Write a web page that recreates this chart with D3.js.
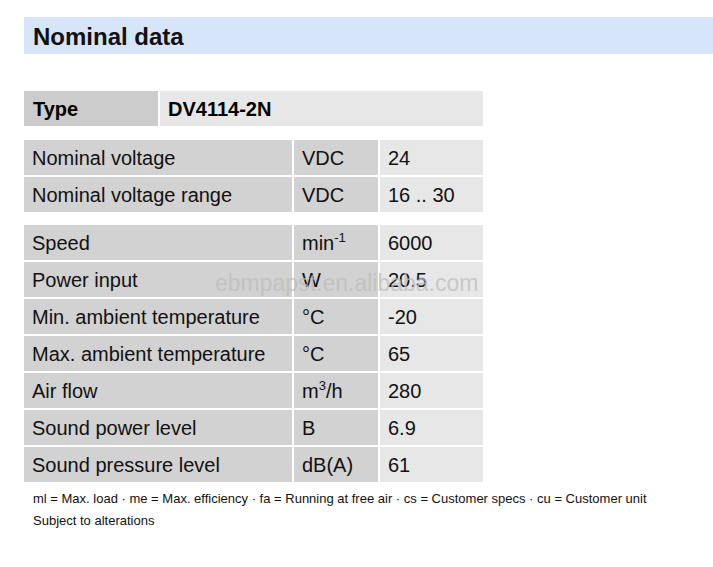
<!DOCTYPE html>
<html><head><meta charset="utf-8">
<script src="https://cdn.jsdelivr.net/npm/d3@7"></script>
<style>body{margin:0;background:#fff;font-family:"Liberation Sans",Arial,sans-serif}</style>
</head><body><div id="chart"></div>
<script>
// Nominal data table
const typeLabel = "Type", typeValue = "DV4114-2N";
const group1 = [
  {name:"Nominal voltage", unit:"VDC", value:"24"},
  {name:"Nominal voltage range", unit:"VDC", value:"16 .. 30"}
];
const group2 = [
  {name:"Speed", unit:"min", sup:"-1", value:"6000"},
  {name:"Power input", unit:"W", value:"20.5"},
  {name:"Min. ambient temperature", unit:"°C", value:"-20"},
  {name:"Max. ambient temperature", unit:"°C", value:"65"},
  {name:"Air flow", unit:"m", sup:"3", unit2:"/h", value:"280"},
  {name:"Sound power level", unit:"B", value:"6.9"},
  {name:"Sound pressure level", unit:"dB(A)", value:"61"}
];
const footnotes = [
  "ml = Max. load  · me = Max. efficiency  · fa = Running at free air  · cs = Customer specs  · cu = Customer unit",
  "Subject to alterations"
];

const width = 713, height = 567;
const svg = d3.select("#chart").append("svg").attr("width", width).attr("height", height);

const darkCell = "#d2d2d2", lightCell = "#e7e7e7";
const rowH = 35, rowStep = 37;

// header band
svg.append("rect").attr("x",24).attr("y",17).attr("width",689).attr("height",37).attr("fill","#d7e5fb");
svg.append("text").attr("x",33).attr("y",45).attr("font-size",24).attr("font-weight","bold").attr("fill","#111").text("Nominal data");

// type row
svg.append("rect").attr("x",24).attr("y",91).attr("width",134).attr("height",rowH).attr("fill","#cccccc");
svg.append("rect").attr("x",160).attr("y",91).attr("width",323).attr("height",rowH).attr("fill",lightCell);
svg.append("text").attr("x",33).attr("y",116).attr("font-size",20).attr("font-weight","bold").text(typeLabel);
svg.append("text").attr("x",168).attr("y",116).attr("font-size",20).attr("font-weight","bold").text(typeValue);

const cols = [{x:24,w:268,f:darkCell,k:"name"},{x:294,w:84,f:darkCell,k:"unit"},{x:380,w:103,f:lightCell,k:"value"}];

function drawGroup(rows, top){
  const y = d3.scaleLinear().domain([0,1]).range([top, top+rowStep]);
  const g = svg.append("g");
  const r = g.selectAll("g").data(rows).join("g").attr("transform",(d,i)=>`translate(0,${y(i)})`);
  cols.forEach(c=>{
    r.append("rect").attr("x",c.x).attr("width",c.w).attr("height",rowH).attr("fill",c.f);
    const t = r.append("text").attr("x",c.x+8).attr("y",25).attr("font-size",20).attr("fill","#111");
    if(c.k==="unit"){
      t.each(function(d){
        const s=d3.select(this);
        s.append("tspan").text(d.unit);
        if(d.sup){ s.append("tspan").attr("dy",-8).attr("font-size",13).text(d.sup);
          if(d.unit2) s.append("tspan").attr("dy",8).attr("font-size",20).text(d.unit2); }
      });
    } else t.text(d=>d[c.k]);
  });
}
drawGroup(group1, 140);
drawGroup(group2, 225);

// watermark
svg.append("text").attr("x",215).attr("y",291).attr("font-size",23).attr("fill","#bdbdbd").attr("opacity",0.75).text("ebmpapst.en.alibaba.com");

svg.selectAll("text.foot").data(footnotes).join("text").attr("class","foot")
  .attr("x",33).attr("y",(d,i)=>503+i*22).attr("font-size",13).attr("fill","#111").text(d=>d);
</script></body></html>
